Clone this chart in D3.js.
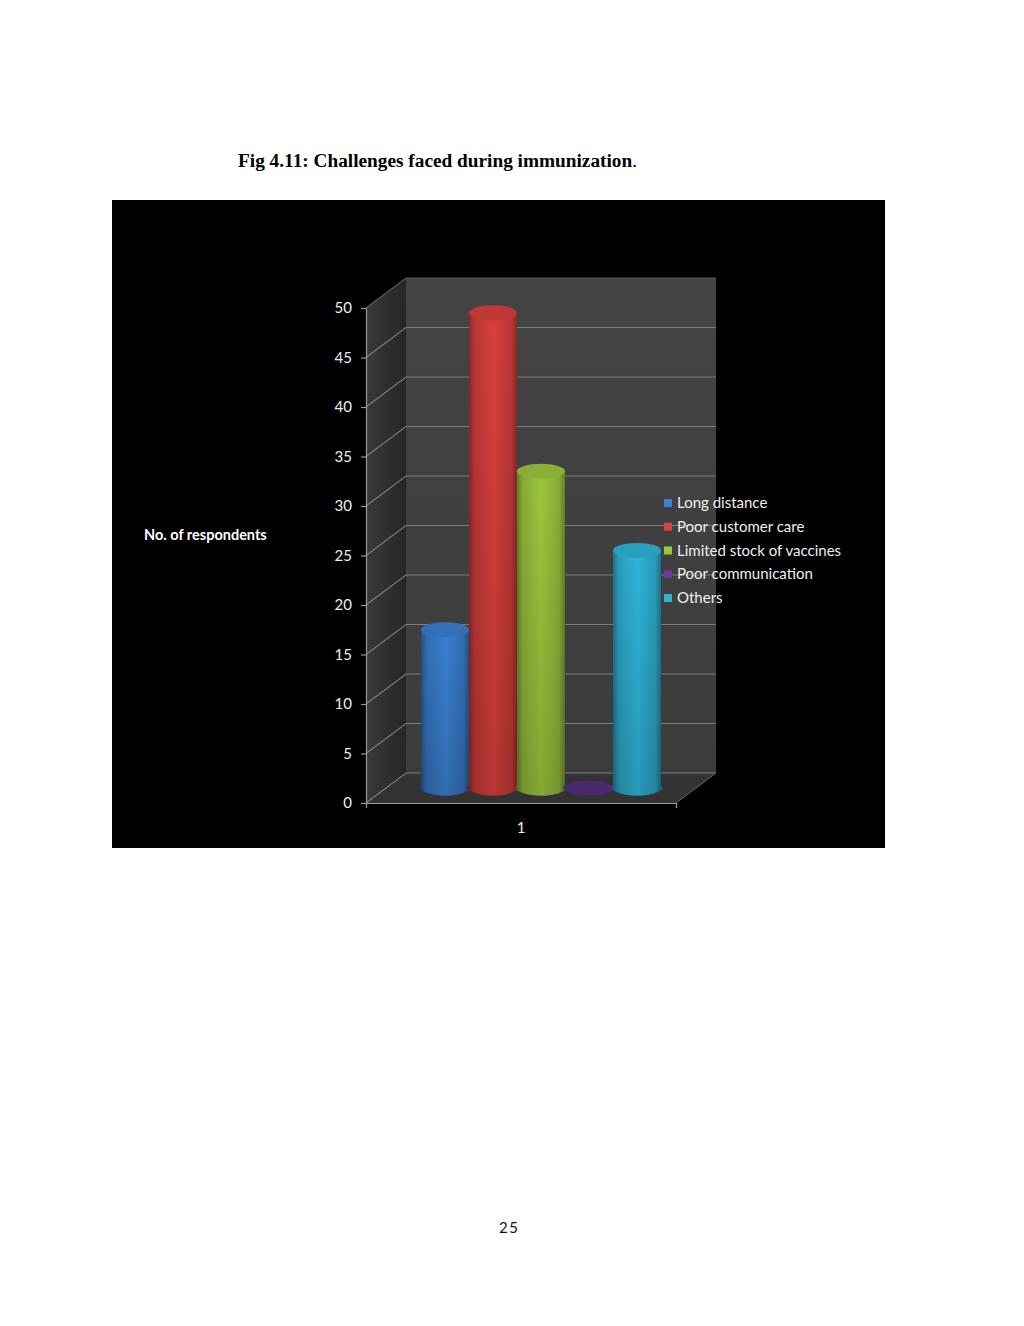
<!DOCTYPE html>
<html>
<head>
<meta charset="utf-8">
<style>
  html, body { margin: 0; padding: 0; background: #fff; }
  svg { display: block; }
  text { font-family: Lato, "Open Sans", sans-serif; }
</style>
<script src="https://cdn.jsdelivr.net/npm/d3@7"></script>
</head>
<body>
<script>
// Chart values
var series = ["Long distance", "Poor customer care", "Limited stock of vaccines", "Poor communication", "Others"];
var values = [16, 48, 32, 0, 24];
var categories = ["1"];
var yTicks = [0, 5, 10, 15, 20, 25, 30, 35, 40, 45, 50];
var baseColors = ["#3a7fd0", "#d8403c", "#9cc63e", "#6a3a9e", "#2fb4d8"];

var width = 1024, height = 1326;
var depthX = 40, depthY = -30;   // offset of the back wall from the front axis plane
var left = 366, right = 676, bottom = 803, top_ = 308;

var svg = d3.select("body").append("svg")
  .attr("width", width).attr("height", height);
var defs = svg.append("defs");

// Page title and number
var title = svg.append("text")
  .attr("x", 238).attr("y", 167)
  .attr("fill", "#000")
  .style("font-family", "'Liberation Serif', serif")
  .style("font-size", "19.3px");
title.append("tspan").attr("font-weight", "bold").text("Fig 4.11: Challenges faced during immunization");
title.append("tspan").text(".");

svg.append("text")
  .attr("x", 499).attr("y", 1233)
  .attr("fill", "#111")
  .attr("letter-spacing", "1.5px")
  .style("font-size", "15px")
  .text("25");

// Black chart area
svg.append("rect")
  .attr("x", 112).attr("y", 200)
  .attr("width", 773).attr("height", 648)
  .attr("fill", "#000");

var y = d3.scaleLinear().domain([0, 50]).range([bottom, top_]);
var xCat = d3.scaleBand().domain(categories).range([left, right]);
var x = d3.scaleBand().domain(series).range([left, right])
  .paddingInner(0).paddingOuter(35 / 48);

var line = d3.line();
var poly = d3.line().curve(d3.curveLinearClosed);

// Walls
var wallGrad = defs.append("linearGradient").attr("id", "sideWall")
  .attr("x1", 0).attr("x2", 1).attr("y1", 0).attr("y2", 0);
wallGrad.append("stop").attr("offset", 0).attr("stop-color", "#3a3a3a");
wallGrad.append("stop").attr("offset", 1).attr("stop-color", "#262626");

var backGrad = defs.append("linearGradient").attr("id", "backWall")
  .attr("x1", 0).attr("x2", 0).attr("y1", 0).attr("y2", 1);
backGrad.append("stop").attr("offset", 0).attr("stop-color", "#444444");
backGrad.append("stop").attr("offset", 1).attr("stop-color", "#3c3c3c");

var plot = svg.append("g");

plot.append("path")
  .attr("d", poly([[left, y(50)], [left + depthX, y(50) + depthY], [left + depthX, y(0) + depthY], [left, y(0)]]))
  .attr("fill", "url(#sideWall)");
plot.append("path")
  .attr("d", poly([[left + depthX, y(50) + depthY], [right + depthX, y(50) + depthY], [right + depthX, y(0) + depthY], [left + depthX, y(0) + depthY]]))
  .attr("fill", "url(#backWall)");
plot.append("path")
  .attr("d", poly([[left, y(0)], [left + depthX, y(0) + depthY], [right + depthX, y(0) + depthY], [right, y(0)]]))
  .attr("fill", "#333333");

// Gridlines on back wall and side wall
yTicks.forEach(function(t) {
  plot.append("path")
    .attr("d", line([[left, y(t)], [left + depthX, y(t) + depthY], [right + depthX, y(t) + depthY]]))
    .attr("fill", "none")
    .attr("stroke", t === 50 ? "#5c5c5c" : "#7c7c7c")
    .attr("stroke-width", 1.2);
});
plot.append("path")
  .attr("d", line([[right, y(0)], [right + depthX, y(0) + depthY]]))
  .attr("stroke", "#666").attr("fill", "none");

// Axes
var yAxis = svg.append("g")
  .attr("transform", "translate(" + left + ",0)")
  .call(d3.axisLeft(y).tickValues(yTicks).tickSizeInner(5).tickSizeOuter(0).tickPadding(9));
var xAxis = svg.append("g")
  .attr("transform", "translate(0," + bottom + ")")
  .call(d3.axisBottom(xCat).tickSizeInner(0).tickSizeOuter(5).tickPadding(19));
[yAxis, xAxis].forEach(function(a) {
  a.selectAll("path, line").attr("stroke", "#9a9a9a").attr("stroke-width", 1.2);
  a.selectAll("text").attr("fill", "#eeeeee").style("font-family", "Lato, sans-serif").style("font-size", "15px");
});

// Cylinders
var ry = 7.5;
var barOffX = depthX / 2, barOffY = depthY / 2;
var bars = svg.append("g");

function shade(c, k) { return d3.color(c).darker(k).formatHex(); }

series.forEach(function(name, i) {
  var c = baseColors[i];
  var g = defs.append("linearGradient").attr("id", "bar" + i)
    .attr("x1", 0).attr("x2", 1).attr("y1", 0).attr("y2", 0);
  g.append("stop").attr("offset", 0).attr("stop-color", shade(c, 1.3));
  g.append("stop").attr("offset", 0.12).attr("stop-color", shade(c, 0.4));
  g.append("stop").attr("offset", 0.5).attr("stop-color", c);
  g.append("stop").attr("offset", 0.88).attr("stop-color", shade(c, 0.4));
  g.append("stop").attr("offset", 1).attr("stop-color", shade(c, 1.3));

  var v = d3.linearGradient ? null : null;
  var shadeV = defs.append("linearGradient").attr("id", "fade" + i)
    .attr("x1", 0).attr("x2", 0).attr("y1", 0).attr("y2", 1);
  shadeV.append("stop").attr("offset", 0).attr("stop-color", "#000").attr("stop-opacity", 0);
  shadeV.append("stop").attr("offset", 1).attr("stop-color", "#000").attr("stop-opacity", 0.15);
});

series.forEach(function(name, i) {
  var bw = x.bandwidth();
  var x0 = x(name) + barOffX;
  var rx = bw / 2;
  var yBase = y(0) + barOffY;
  var yTop = y(values[i]) + barOffY;
  var c = baseColors[i];

  // base shadow / floor ellipse
  bars.append("ellipse")
    .attr("cx", x0 + rx).attr("cy", yBase)
    .attr("rx", rx + 2).attr("ry", ry)
    .attr("fill", shade(c, values[i] === 0 ? 1 : 2));

  if (values[i] === 0) return;

  var d = "M" + x0 + "," + yTop +
    "L" + x0 + "," + yBase +
    "A" + rx + "," + ry + " 0 0 0 " + (x0 + bw) + "," + yBase +
    "L" + (x0 + bw) + "," + yTop + "Z";
  bars.append("path").attr("d", d).attr("fill", "url(#bar" + i + ")");
  bars.append("path").attr("d", d).attr("fill", "url(#fade" + i + ")");

  bars.append("ellipse")
    .attr("cx", x0 + rx).attr("cy", yTop)
    .attr("rx", rx).attr("ry", ry)
    .attr("fill", shade(c, 0.35));
});

// Legend
var legendY = d3.scalePoint().domain(series).range([503, 598]);
var legend = svg.append("g");
series.forEach(function(name, i) {
  var ly = legendY(name);
  legend.append("rect")
    .attr("x", 664).attr("y", ly - 4)
    .attr("width", 8).attr("height", 8)
    .attr("fill", baseColors[i]);
  legend.append("text")
    .attr("x", 677).attr("y", ly + 5)
    .attr("fill", "#eeeeee")
    .style("font-size", "15px")
    .text(name);
});

// Value axis title
svg.append("text")
  .attr("x", 144).attr("y", 540)
  .attr("fill", "#ffffff")
  .attr("font-weight", "bold")
  .style("font-size", "14.5px")
  .text("No. of respondents");
</script>
</body>
</html>
